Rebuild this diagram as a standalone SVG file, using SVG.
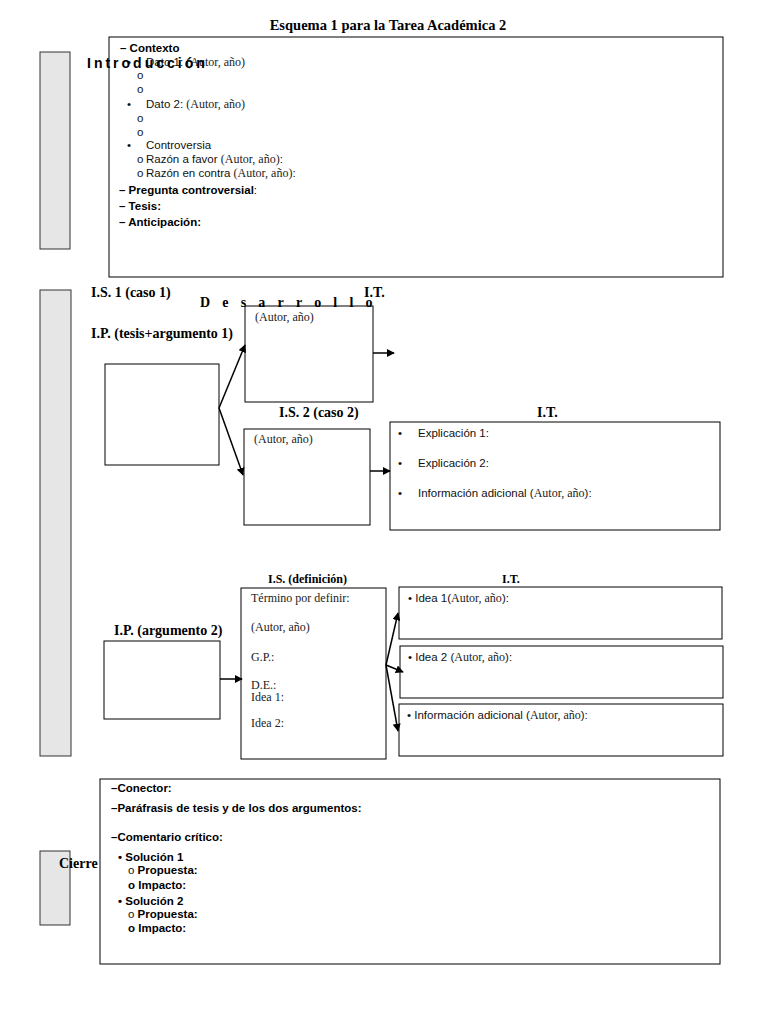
<svg xmlns="http://www.w3.org/2000/svg" width="768" height="1024" viewBox="0 0 768 1024">
<defs>
<marker id="ah" viewBox="0 0 10 10" refX="9" refY="5" markerWidth="8" markerHeight="8" markerUnits="userSpaceOnUse" orient="auto"><path d="M0,0 L10,5 L0,10 z" fill="#000"/></marker>
<style>
.box{fill:#fff;stroke:#000;stroke-width:1}
.bar{fill:#e6e6e6;stroke:#333;stroke-width:1}
.hs{font-family:"Liberation Serif",serif;font-weight:bold;font-size:14px;fill:#000}
.hs2{font-family:"Liberation Serif",serif;font-weight:bold;font-size:12px;fill:#000}
.s{font-family:"Liberation Serif",serif;font-size:12px;font-weight:normal;fill:#222}
.n{font-family:"Liberation Sans Narrow","Liberation Sans",sans-serif;font-size:11.5px;font-weight:normal;fill:#111}
.nb{font-family:"Liberation Sans Narrow","Liberation Sans",sans-serif;font-size:11.5px;font-weight:bold;fill:#000}
.c{stroke:#000;stroke-width:1.5;fill:none;marker-end:url(#ah)}
</style>
</defs>
<rect width="768" height="1024" fill="#fff"/>
<text class="hs" x="388" y="30" text-anchor="middle" style="font-size:14.5px">Esquema 1 para la Tarea Académica 2</text>

<g id="intro-bar"><rect class="bar" x="40" y="52" width="30" height="197"/></g>
<g id="intro-box">
<rect class="box" x="109" y="37" width="614" height="240"/>
<text class="nb" x="120" y="52">– Contexto</text>
<text class="n" x="127" y="66">•</text><text class="n" x="146" y="66">Dato 1: <tspan class="s">(Autor, año)</tspan></text>
<text class="n" x="137" y="79">o</text>
<text class="n" x="137" y="93">o</text>
<text class="n" x="127" y="108">•</text><text class="n" x="146" y="108">Dato 2: <tspan class="s">(Autor, año)</tspan></text>
<text class="n" x="137" y="122">o</text>
<text class="n" x="137" y="136">o</text>
<text class="n" x="127" y="149">•</text><text class="n" x="146" y="149">Controversia</text>
<text class="n" x="137" y="163">o</text><text class="n" x="146" y="163">Razón a favor <tspan class="s">(Autor, año)</tspan>:</text>
<text class="n" x="137" y="177">o</text><text class="n" x="146" y="177">Razón en contra <tspan class="s">(Autor, año)</tspan>:</text>
<text class="nb" x="119" y="194">– Pregunta controversial<tspan class="n">:</tspan></text>
<text class="nb" x="119" y="210">– Tesis:</text>
<text class="nb" x="119" y="226">– Anticipación:</text>
</g>
<text id="intro-label" x="87" y="68" style="font-family:'Liberation Sans',sans-serif;font-weight:bold;font-size:14px;letter-spacing:3px" fill="#000">Introducción</text>

<g id="des-bar"><rect class="bar" x="40" y="290" width="31" height="466"/></g>
<text class="hs" x="91" y="297">I.S. 1 (caso 1)</text>
<text class="hs" x="364" y="297">I.T.</text>
<text class="hs" x="91" y="338">I.P. (tesis+argumento 1)</text>
<g id="ip1"><rect class="box" x="105" y="364" width="114" height="101"/></g>
<g id="is1"><rect class="box" x="245" y="306" width="128" height="96"/><text class="s" x="255" y="321">(Autor, año)</text></g>
<text id="des-label" x="200" y="307" style="font-family:'Liberation Serif',serif;font-weight:bold;font-size:14px;letter-spacing:12.2px" fill="#000">Desarrollo</text>
<text class="hs" x="279" y="417">I.S. 2 (caso 2)</text>
<text class="hs" x="537" y="417">I.T.</text>
<g id="is2"><rect class="box" x="244" y="429" width="126" height="96"/><text class="s" x="254" y="443">(Autor, año)</text></g>
<g id="it1">
<rect class="box" x="390" y="422" width="330" height="108"/>
<text class="n" x="398" y="437">•</text><text class="n" x="418" y="437">Explicación 1:</text>
<text class="n" x="398" y="467">•</text><text class="n" x="418" y="467">Explicación 2:</text>
<text class="n" x="398" y="497">•</text><text class="n" x="418" y="497">Información adicional (<tspan class="s">Autor, año</tspan>):</text>
</g>

<text class="hs2" x="268" y="583">I.S. (definición)</text>
<text class="hs2" x="502" y="583">I.T.</text>
<text class="hs" x="114" y="635">I.P. (argumento 2)</text>
<g id="ip2"><rect class="box" x="104" y="641" width="116" height="78"/></g>
<g id="isdef">
<rect class="box" x="241" y="588" width="145" height="171"/>
<text class="s" x="251" y="602">Término por definir:</text>
<text class="s" x="251" y="631">(Autor, año)</text>
<text class="s" x="251" y="661">G.P.:</text>
<text class="s" x="251" y="689">D.E.:</text>
<text class="s" x="251" y="701">Idea 1:</text>
<text class="s" x="251" y="727">Idea 2:</text>
</g>
<g id="it-idea1"><rect class="box" x="399" y="587" width="323" height="52"/><text class="n" x="408" y="602">• Idea 1(<tspan class="s">Autor, año</tspan>):</text></g>
<g id="it-idea2"><rect class="box" x="400" y="646" width="323" height="52"/><text class="n" x="408" y="661">• Idea 2 (<tspan class="s">Autor, año</tspan>):</text></g>
<g id="it-info"><rect class="box" x="399" y="704" width="324" height="52"/><text class="n" x="407" y="719">• Información adicional (<tspan class="s">Autor, año</tspan>):</text></g>

<g id="cierre-bar"><rect class="bar" x="40" y="851" width="30" height="74"/></g>
<g id="cierre-box">
<rect class="box" x="100" y="779" width="620" height="185"/>
<text class="nb" x="111" y="792">–Conector:</text>
<text class="nb" x="111" y="812">–Paráfrasis de tesis y de los dos argumentos:</text>
<text class="nb" x="111" y="841">–Comentario crítico:</text>
<text class="nb" x="118" y="861">• Solución 1</text>
<text class="nb" x="128" y="874"><tspan class="n">o</tspan> Propuesta:</text>
<text class="nb" x="128" y="889">o Impacto:</text>
<text class="nb" x="118" y="905">• Solución 2</text>
<text class="nb" x="128" y="918"><tspan class="n">o</tspan> Propuesta:</text>
<text class="nb" x="128" y="932">o Impacto:</text>
</g>
<text id="cierre-label" class="hs" x="59" y="868">Cierre</text>

<g id="connectors">
<line class="c" x1="219" y1="408" x2="245" y2="345"/>
<line class="c" x1="219" y1="408" x2="243" y2="475"/>
<line class="c" x1="373" y1="353" x2="394" y2="353"/>
<line class="c" x1="370" y1="471" x2="390" y2="471"/>
<line class="c" x1="220" y1="679" x2="242" y2="679"/>
<line class="c" x1="386" y1="665" x2="398" y2="613"/>
<line class="c" x1="386" y1="665" x2="403" y2="672"/>
<line class="c" x1="386" y1="665" x2="398" y2="731"/>
</g>
</svg>
